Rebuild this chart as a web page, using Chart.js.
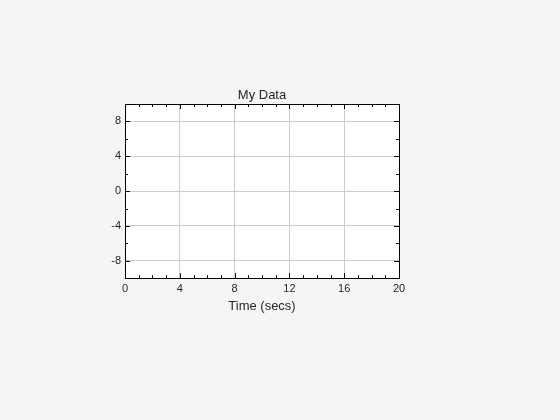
<!DOCTYPE html>
<html>
<head>
<meta charset="utf-8">
<script src="https://cdn.jsdelivr.net/npm/chart.js@4"></script>
<style>
  html, body { margin: 0; padding: 0; background: #f5f5f5; }
  #wrap { width: 560px; height: 420px; }
</style>
</head>
<body>
<div id="wrap"><canvas id="plot" width="560" height="420"></canvas></div>
<script>
// data (kosong, cuma sumbu)
const timeSecs = [];
const values = [];

// tick labels
const xTicks = [0, 4, 8, 12, 16, 20];
const yTicks = [-8, -4, 0, 4, 8];
const xMinorTicks = [1, 2, 3, 5, 6, 7, 9, 10, 11, 13, 14, 15, 17, 18, 19];
const yMinorTicks = [-10, -6, -2, 2, 6, 10];

const plotTitle = 'My Data';
const FONT = "'Liberation Sans', Arial, sans-serif";

// gambar bingkai + tick ke dalam di keempat sisi, judul di tengah area plot
const framePlugin = {
  id: 'frame',
  beforeDraw(chart) {
    const { ctx, chartArea: a } = chart;
    ctx.save();
    ctx.fillStyle = '#ffffff';
    ctx.fillRect(a.left, a.top, a.right - a.left, a.bottom - a.top);
    ctx.restore();
  },
  afterDraw(chart) {
    const { ctx, chartArea: a, scales } = chart;
    ctx.save();
    ctx.strokeStyle = '#000000';
    ctx.lineWidth = 1;
    ctx.beginPath();
    const tick = (vals, len, horiz) => {
      vals.forEach(v => {
        if (horiz) {
          const px = Math.round(scales.x.getPixelForValue(v)) + 0.5;
          ctx.moveTo(px, a.bottom); ctx.lineTo(px, a.bottom - len);
          ctx.moveTo(px, a.top); ctx.lineTo(px, a.top + len);
        } else {
          const py = Math.round(scales.y.getPixelForValue(v)) + 0.5;
          ctx.moveTo(a.left, py); ctx.lineTo(a.left + len, py);
          ctx.moveTo(a.right, py); ctx.lineTo(a.right - len, py);
        }
      });
    };
    tick(xTicks, 5, true);
    tick(xMinorTicks, 3, true);
    tick(yTicks, 5, false);
    tick(yMinorTicks, 3, false);
    ctx.stroke();
    ctx.strokeRect(Math.round(a.left) + 0.5, Math.round(a.top) + 0.5,
                   Math.round(a.right - a.left), Math.round(a.bottom - a.top));

    // judul
    ctx.fillStyle = '#262626';
    ctx.font = '13px ' + FONT;
    ctx.textAlign = 'center';
    ctx.textBaseline = 'middle';
    ctx.fillText(plotTitle, (a.left + a.right) / 2, a.top - 9);
    ctx.restore();
  }
};

const ctx = document.getElementById('plot').getContext('2d');
const chart = new Chart(ctx, {
  type: 'scatter',
  data: {
    datasets: [{
      label: plotTitle,
      data: timeSecs.map((t, i) => ({ x: t, y: values[i] })),
      borderColor: '#0072bd',
      showLine: true
    }]
  },
  options: {
    responsive: false,
    animation: false,
    layout: { padding: { left: 95, right: 161, top: 104, bottom: 106 } },
    plugins: {
      legend: { display: false },
      tooltip: { enabled: false },
      title: { display: false }
    },
    scales: {
      x: {
        type: 'linear',
        min: 0, max: 20,
        afterBuildTicks: s => { s.ticks = xTicks.map(v => ({ value: v })); },
        ticks: { color: '#262626', font: { family: FONT, size: 11 }, padding: 4, maxRotation: 0 },
        grid: { color: '#cccccc', drawTicks: false },
        border: { display: false },
        title: {
          display: true,
          text: 'Time (secs)',
          color: '#262626',
          font: { family: FONT, size: 13 },
          padding: { top: -1, bottom: 0 }
        }
      },
      y: {
        type: 'linear',
        min: -10, max: 10,
        afterBuildTicks: s => { s.ticks = yTicks.map(v => ({ value: v })); },
        afterFit: s => { s.width = 30; },
        ticks: { color: '#262626', font: { family: FONT, size: 11 }, padding: 4 },
        grid: { color: '#cccccc', drawTicks: false },
        border: { display: false }
      }
    }
  },
  plugins: [framePlugin]
});
</script>
</body>
</html>
